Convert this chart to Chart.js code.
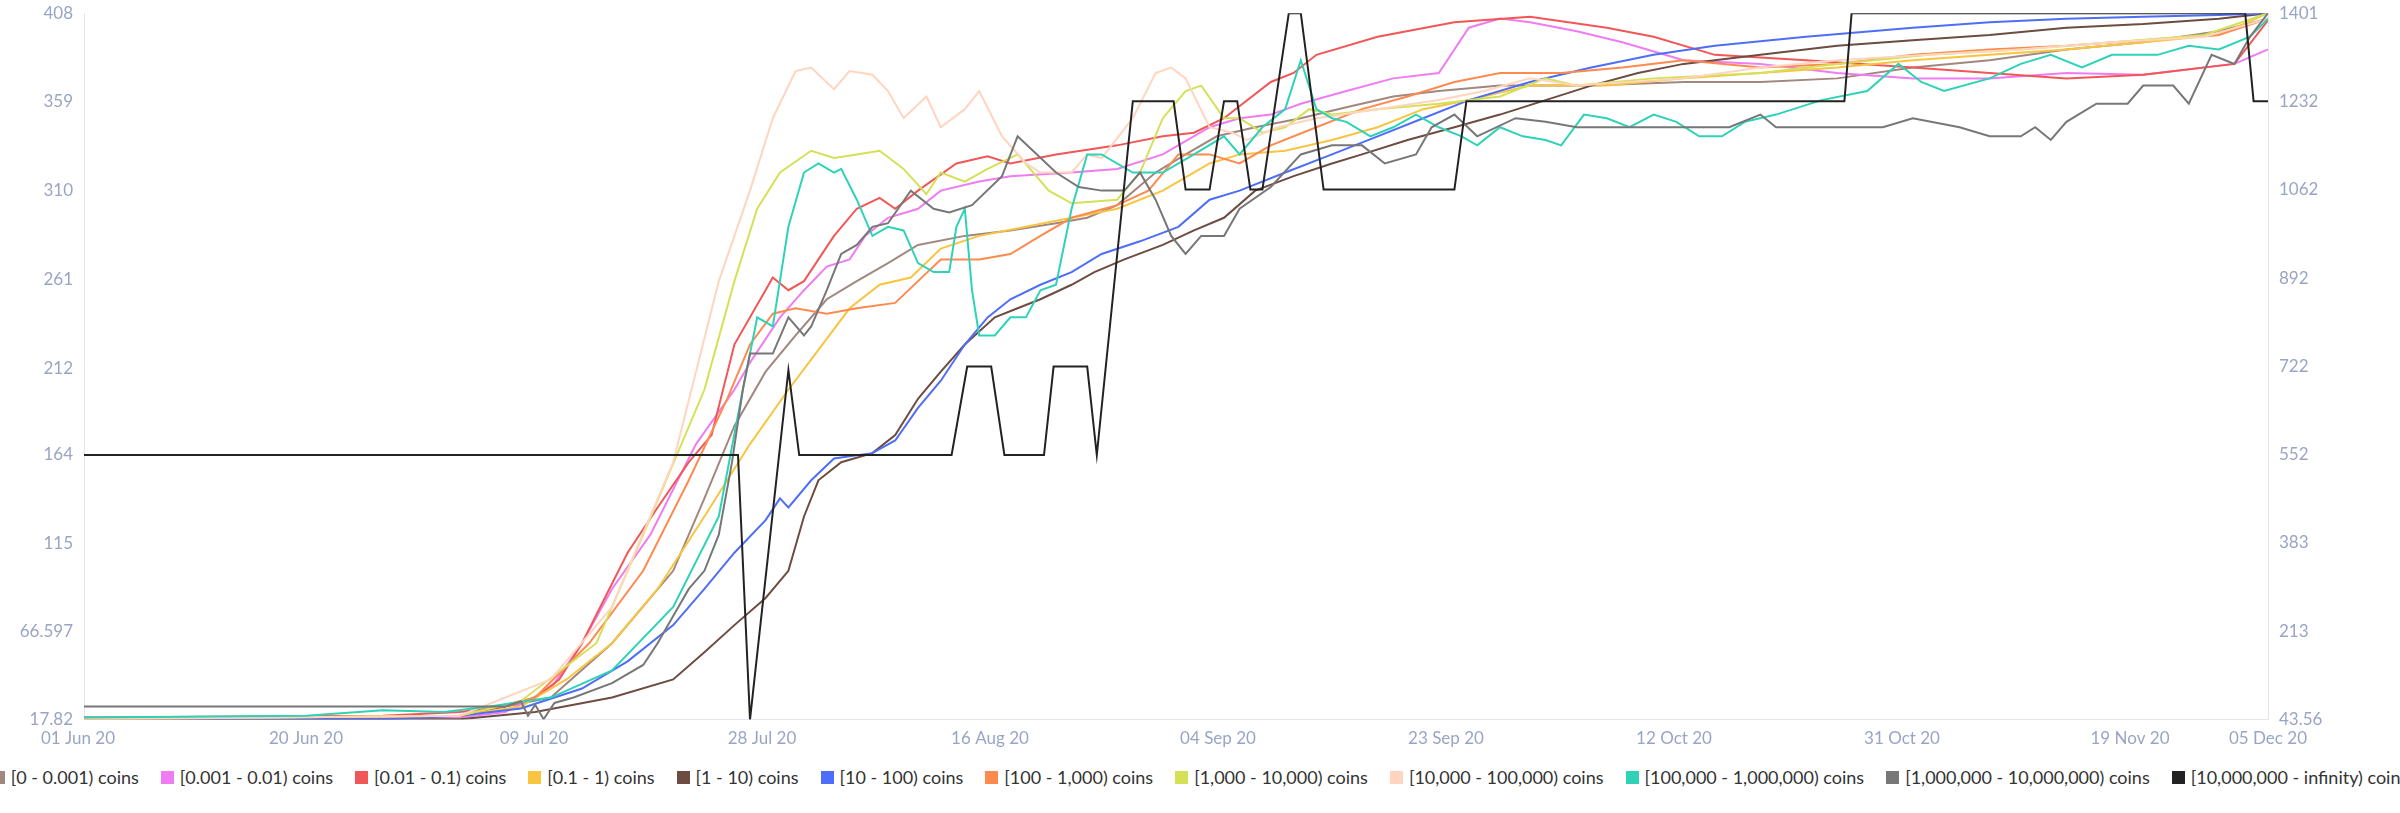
<!DOCTYPE html>
<html><head><meta charset="utf-8">
<script src="https://cdn.jsdelivr.net/npm/chart.js@4.4.1/dist/chart.umd.min.js"></script>
<style>
html,body{margin:0;padding:0;background:#fff;width:2400px;height:813px;overflow:hidden;font-family:Lato,"Open Sans",sans-serif}
#wrap{position:absolute;left:0;top:0;width:2400px;height:752px}
#legend{position:absolute;left:0;top:766px;width:2400px;display:flex;justify-content:center;white-space:nowrap;font-size:18px;color:#333}
#legend .it{display:flex;align-items:center;margin:0 11px;flex-shrink:0}
#legend .bx{width:13px;height:13px;margin-right:6px}
</style></head><body>
<div id="wrap"><canvas id="c"></canvas></div>
<div id="legend"></div>
<script>
// x = days since 01 Jun 2020
const tickDays = [0,19,38,57,76,95,114,133,152,171,182.5];
const tickLabels = ["01 Jun 20","20 Jun 20","09 Jul 20","28 Jul 20","16 Aug 20","04 Sep 20","23 Sep 20","12 Oct 20","31 Oct 20","19 Nov 20","05 Dec 20"];
const leftTicks = [17.82,66.597,115,164,212,261,310,359,408];
const rightTicks = [43.56,213,383,552,722,892,1062,1232,1401];
const names = ["[0 - 0.001) coins","[0.001 - 0.01) coins","[0.01 - 0.1) coins","[0.1 - 1) coins","[1 - 10) coins","[10 - 100) coins","[100 - 1,000) coins","[1,000 - 10,000) coins","[10,000 - 100,000) coins","[100,000  - 1,000,000) coins","[1,000,000 - 10,000,000) coins","[10,000,000 - infinity) coins"];
const colors = ["#a1887f","#f07cf2","#f25757","#f9c440","#6d4c41","#4f6ef7","#ff8a50","#d4e157","#ffd5bf","#2ed3b7","#777777","#222222"];

const s0 = [[0.5,18],[31.8,20],[39.4,30],[44.5,60],[49.6,100],[52.2,140],[54.7,180],[57.3,210],[59.8,230],[62.4,250],[64.9,260],[67.5,270],[70,280],[73.9,285],[77.7,288],[81.5,292],[84.1,295],[86.6,302],[89.8,320],[92.3,330],[94.9,340],[98.1,345],[101.9,350],[105.7,356],[109.6,362],[113.4,365],[118.5,368],[126.1,368],[133.8,370],[140.2,370],[146.6,372],[152.9,378],[159.3,382],[165.7,388],[172.1,392],[178.4,398],[182.5,405]];
const s1 = [[0.5,19],[31.8,19],[35.6,22],[39.4,35],[42,60],[44.5,90],[47.7,120],[51.5,170],[54.7,200],[56,215],[58.5,240],[60.5,255],[62.4,268],[64.3,272],[65.6,285],[67.5,295],[70,300],[71.9,310],[75.1,315],[77.7,318],[82.8,320],[86.6,322],[90.4,330],[94.3,345],[96.8,350],[99.4,352],[101.9,358],[105.7,365],[109.6,372],[113.4,375],[115.9,400],[118.5,405],[121,403],[124.9,398],[128.7,392],[133.8,382],[140.2,380],[146.6,375],[152.9,372],[159.3,372],[165.7,375],[172.1,374],[179.7,380],[182.5,388]];
const s2 = [[0.5,19],[25.4,20],[31.8,22],[35.6,25],[38.1,30],[40.1,40],[42,60],[43.9,85],[45.8,110],[48.3,135],[50.9,160],[52.8,175],[54.7,225],[57.9,262],[59.2,255],[60.5,260],[63,285],[64.9,300],[66.8,306],[68.1,300],[70,310],[73.2,325],[75.8,329],[77.7,325],[81.5,330],[86.6,335],[90.4,340],[93,342],[95.5,350],[99.4,370],[101.3,375],[103.2,385],[108.3,395],[114.7,403],[121,406],[127.4,400],[131.3,395],[136.4,385],[144,382],[152.9,378],[159.3,375],[165.7,372],[172.1,374],[179.7,380],[182.5,404]];
const s3 = [[0.5,18],[31.8,20],[36.9,25],[40.7,40],[44.5,60],[48.3,90],[52.2,130],[56,170],[59.2,200],[61.7,222],[64.3,245],[66.8,258],[69.4,262],[71.9,278],[75.1,285],[79,290],[82.8,295],[86.6,300],[90.4,310],[94.3,325],[96.8,330],[100.6,332],[104.5,338],[108.3,345],[112.1,355],[115.9,360],[121,368],[127.4,368],[133.8,372],[140.2,375],[146.6,378],[152.9,382],[159.3,385],[165.7,388],[172.1,392],[178.4,396],[182.5,408]];
const s4 = [[0.5,18],[31.8,18],[38.1,22],[44.5,30],[49.6,40],[52.2,55],[54.7,70],[57.3,85],[59.2,100],[60.5,130],[61.7,150],[63.6,160],[66.2,165],[68.1,175],[70,195],[71.9,210],[73.9,225],[76.4,240],[78.3,245],[80.2,250],[82.8,258],[84.7,265],[87.2,272],[90.4,280],[93,288],[95.5,295],[98.1,310],[101.3,318],[104.5,325],[107,330],[110.8,338],[114.7,345],[118.5,352],[122.3,360],[126.1,368],[130,375],[133.8,380],[140.2,385],[146.6,390],[152.9,393],[159.3,396],[165.7,400],[172.1,402],[178.4,405],[182.5,408]];
const s5 = [[0.5,18],[25.4,18],[31.8,20],[36.9,24],[42,35],[45.8,50],[49.6,70],[52.2,90],[54.7,110],[57.3,128],[58.5,140],[59.2,135],[61.1,150],[63,162],[66.2,165],[68.1,172],[70,190],[71.9,205],[73.9,225],[75.8,240],[77.7,250],[80.2,258],[82.8,265],[85.3,275],[88.5,282],[91.7,290],[94.3,305],[96.8,310],[100.6,320],[104.5,330],[108.3,340],[112.1,350],[115.9,360],[121,370],[126.1,378],[131.3,385],[136.4,390],[144,395],[152.9,400],[159.3,403],[165.7,405],[172.1,406],[178.4,407],[182.5,408]];
const s6 = [[0.5,18],[31.8,20],[38.1,30],[42.6,60],[47.1,100],[50.9,150],[54.1,195],[56,225],[57.9,242],[59.8,245],[62.4,242],[64.9,245],[68.1,248],[70,260],[71.9,272],[75.1,272],[77.7,275],[80.2,285],[82.8,295],[86.6,302],[89.2,310],[91.7,330],[94.3,330],[96.8,325],[99.4,335],[103.2,345],[107,355],[110.8,362],[114.7,370],[118.5,375],[123.6,375],[128.7,378],[133.8,382],[140.2,378],[146.6,380],[152.9,385],[159.3,388],[165.7,390],[172.1,393],[178.4,396],[182.5,405]];
const s7 = [[0.5,18],[31.8,20],[36.9,28],[43.2,60],[47.1,120],[52.2,200],[54.7,260],[56.6,300],[58.5,320],[61.1,332],[63,328],[64.9,330],[66.8,332],[68.8,322],[70.7,308],[71.9,320],[73.9,315],[75.8,322],[78.3,330],[80.9,310],[82.8,303],[86.6,305],[88.5,320],[90.4,350],[92.3,365],[93.6,368],[95.5,350],[96.8,350],[98.7,342],[100.6,345],[102.6,355],[104.5,352],[108.3,355],[113.4,358],[118.5,362],[122.3,372],[124.9,368],[131.3,372],[140.2,375],[146.6,380],[154.2,385],[161.9,388],[169.5,392],[177.2,396],[182.5,408]];
const s8 = [[0.5,18],[31.8,20],[39.4,40],[44.5,80],[49.6,160],[53.4,260],[56,310],[57.9,350],[59.8,376],[61.1,378],[63,366],[64.3,376],[66.2,374],[67.5,365],[68.8,350],[70.7,362],[71.9,345],[73.9,355],[75.1,365],[77,340],[79,325],[80.2,320],[82.8,320],[84.1,330],[85.3,328],[87.9,350],[89.8,375],[91.1,378],[92.3,372],[94.3,345],[96.2,342],[97.4,338],[100,345],[103.2,350],[108.3,355],[113.4,360],[117.2,365],[121,372],[124.9,368],[133.8,372],[140.2,378],[146.6,382],[154.2,385],[161.9,388],[169.5,392],[177.2,395],[182.5,405]];
const s9 = [[0.5,19],[19,20],[25.4,23],[30.5,22],[34.3,25],[39.4,30],[44.5,45],[49.6,80],[53.4,130],[55.4,200],[56.6,240],[57.9,235],[59.2,290],[60.5,320],[61.7,325],[63,320],[63.6,322],[64.9,305],[66.2,285],[67.5,290],[68.8,288],[70,270],[71.3,265],[72.6,265],[73.2,290],[73.9,300],[74.5,255],[75.1,230],[76.4,230],[77.7,240],[79,240],[80.2,255],[81.5,258],[82.8,300],[84.1,330],[85.3,330],[87.9,320],[90.4,320],[93,330],[95.5,340],[96.8,330],[98.7,345],[100.6,355],[101.9,382],[103.2,355],[104.5,350],[105.7,348],[107.7,340],[109.6,345],[111.5,352],[113.4,345],[115.3,340],[116.6,335],[118.5,345],[120.4,340],[122.3,338],[123.6,335],[125.5,352],[127.4,350],[129.3,345],[131.3,352],[133.2,348],[135.1,340],[137,340],[138.9,348],[141.5,352],[145.3,360],[149.1,365],[151.7,380],[153.6,370],[155.5,365],[159.3,372],[161.9,380],[164.4,385],[167,378],[169.5,385],[173.3,385],[175.9,390],[178.4,388],[181,395],[182.5,405]];
const s10 = [[0.5,25],[35.6,25],[36.9,28],[37.5,20],[38.1,26],[38.8,18],[39.7,27],[41.3,30],[44.5,38],[47.1,48],[48.3,60],[49.6,75],[50.9,90],[52.2,100],[53.4,120],[54.5,160],[55.4,200],[56,220],[57.9,220],[59.2,240],[60.5,230],[61.1,235],[62.4,255],[63.6,275],[64.9,280],[66.2,290],[67.5,292],[69.4,310],[71.3,300],[72.6,298],[74.5,302],[77,318],[78.3,340],[81.5,320],[83.4,312],[85.3,310],[87.2,310],[88.5,320],[89.8,305],[91.1,285],[92.3,275],[93.6,285],[95.5,285],[96.8,300],[99.4,312],[101.9,330],[104.5,335],[107,335],[108.9,325],[111.5,330],[112.8,345],[114.7,352],[116.6,340],[119.8,350],[122.3,348],[124.9,345],[132.5,345],[137.6,345],[140.2,352],[141.5,345],[150.4,345],[152.9,350],[156.8,345],[159.3,340],[161.9,340],[163.1,345],[164.4,338],[165.7,348],[168.2,358],[170.8,358],[172.1,368],[174.6,368],[175.9,358],[177.8,385],[179.7,380],[181,395],[182.5,408]];
// right axis
const s11 = [[0.5,552],[55,552],[56,43.56],[59.2,715],[60.1,552],[72.8,552],[74.1,722],[76.1,722],[77.2,552],[80.5,552],[81.3,722],[84.1,722],[84.9,552],[87.9,1232],[91.3,1232],[92.3,1062],[94.3,1062],[95.5,1232],[96.6,1232],[97.7,1062],[98.7,1062],[100.9,1401],[101.9,1401],[103.8,1062],[114.7,1062],[115.7,1232],[147.2,1232],[147.8,1401],[180.6,1401],[181.3,1232],[182.5,1232]];
const series = [s0,s1,s2,s3,s4,s5,s6,s7,s8,s9,s10,s11];

const tickColor = "#9aa5c4";
const tickFont = {family:"Lato, 'Open Sans', sans-serif", size:17};
const ds = series.map((s,i)=>({
  label:names[i], data:s.map(p=>({x:p[0],y:p[1]})), borderColor:colors[i], backgroundColor:colors[i],
  borderWidth:2, pointRadius:0, tension:0, yAxisID: i===11?'y2':'y', order: i===11?0:12-i
}));
new Chart(document.getElementById('c'),{
  type:'line', data:{datasets:ds},
  options:{responsive:true,maintainAspectRatio:false,animation:false,
    layout:{padding:{left:0,right:6,top:4,bottom:0}},
    plugins:{legend:{display:false},tooltip:{enabled:false}},
    scales:{
      x:{type:'linear',min:0.5,max:182.5,
        afterBuildTicks:a=>{a.ticks=tickDays.map(v=>({value:v}));},
        ticks:{color:tickColor,font:tickFont,maxRotation:0,autoSkip:false,callback:(v,i)=>tickLabels[i]},
        grid:{display:false,drawTicks:true,tickLength:6},border:{color:'#e3e6ee'}},
      y:{position:'left',min:17.82,max:408,
        afterBuildTicks:a=>{a.ticks=leftTicks.map(v=>({value:v}));},
        ticks:{color:tickColor,font:tickFont,callback:v=>String(v)},
        grid:{display:false},border:{color:'#e3e6ee'},afterFit:a=>{a.width=84;}},
      y2:{position:'right',min:43.56,max:1401,
        afterBuildTicks:a=>{a.ticks=rightTicks.map(v=>({value:v}));},
        ticks:{color:tickColor,font:tickFont,callback:v=>String(v)},
        grid:{display:false},border:{color:'#e3e6ee'},afterFit:a=>{a.width=126;}}
    }}
});
const lg=document.getElementById('legend');
names.forEach((n,i)=>{const d=document.createElement('div');d.className='it';
  d.innerHTML='<span class="bx" style="background:'+colors[i]+'"></span><span>'+n+'</span>';lg.appendChild(d);});
</script></body></html>
